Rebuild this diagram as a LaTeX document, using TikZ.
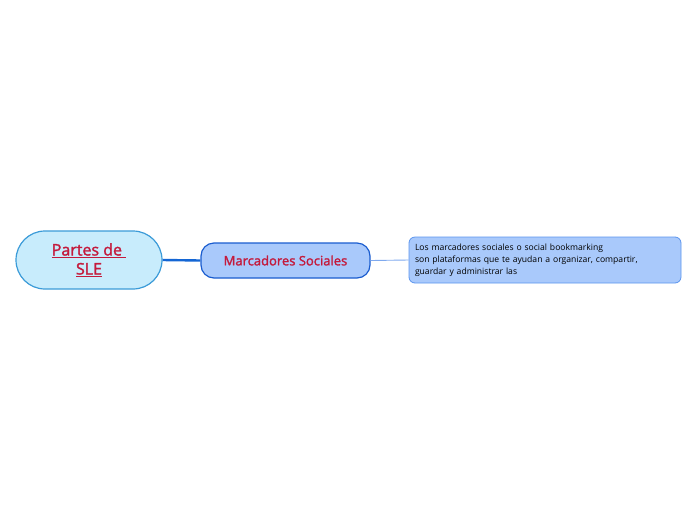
\documentclass[tikz,border=0pt]{standalone}
\usepackage{fontspec}
\setmainfont{Open Sans}
\newfontfamily\labelfont[FakeBold=1.8]{Open Sans}
\usepackage{xcolor}
\definecolor{rootfill}{RGB}{200, 236, 252}
\definecolor{rootline}{RGB}{59, 155, 216}
\definecolor{topicfill}{RGB}{169, 201, 251}
\definecolor{topicline}{RGB}{26, 92, 207}
\definecolor{noteline}{RGB}{90, 148, 238}
\definecolor{labelred}{RGB}{196, 26, 60}
\definecolor{mainlink}{RGB}{20, 102, 212}
\definecolor{sublink}{RGB}{127, 169, 238}

\begin{document}
\begin{tikzpicture}[x=1pt, y=-1pt,
    rootbox/.style={draw=rootline, fill=rootfill, line width=1.2pt, rounded corners=29pt,
        minimum width=146pt, minimum height=58pt, align=center, text=labelred,
        font=\labelfont\fontsize{16}{19}\selectfont},
    topicbox/.style={draw=topicline, fill=topicfill, line width=1.2pt, rounded corners=13pt,
        minimum width=169pt, minimum height=35pt, text=labelred,
        font=\labelfont\fontsize{13}{15}\selectfont},
    notebox/.style={draw=noteline, fill=topicfill, line width=0.8pt, rounded corners=6pt,
        text width=260pt, inner xsep=6pt, minimum height=46pt, align=left,
        font=\fontsize{8.6}{12}\selectfont}]
    \useasboundingbox (0,0) rectangle (696,520);

    % Nodes
    \node[rootbox] (root) at (89,260) {\underline{Partes de\ }\\\underline{SLE}};
    \node[topicbox] (marcadores) at (285.5,260.5) {Marcadores Sociales};
    \node[notebox] (nota) at (545,260) {Los marcadores sociales o social bookmarking\\
        son plataformas que te ayudan a organizar, compartir,\\
        guardar y administrar las};

    % Links
    \draw[mainlink, line width=2.4pt] (root.east) -- (marcadores.west);
    \draw[sublink, line width=0.9pt] (marcadores.east) -- (nota.west);
\end{tikzpicture}
\end{document}
